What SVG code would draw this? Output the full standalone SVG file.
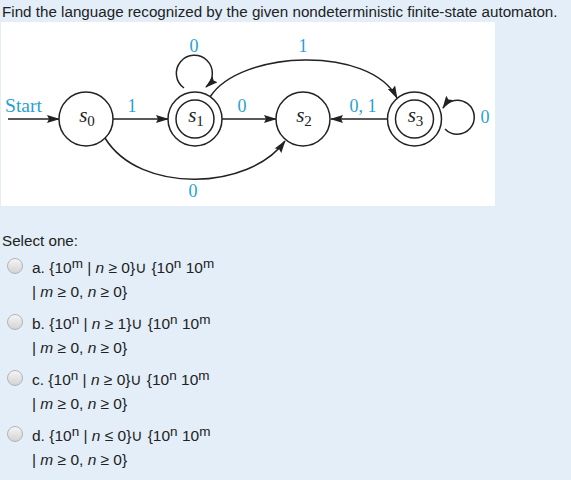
<svg xmlns="http://www.w3.org/2000/svg" width="571" height="480" viewBox="0 0 571 480">
<style>
.lbl{font-family:"Liberation Serif","Times New Roman",serif;font-size:18px;fill:#2a9fd6}
.st{font-family:"Liberation Serif","Times New Roman",serif;font-size:21px;font-style:italic;fill:#222}
.sub{font-size:15px;font-style:normal}
.node{fill:#fff;stroke:#222;stroke-width:1.5}
.edge{fill:none;stroke:#222;stroke-width:1.5}
.txt{font-family:"Liberation Sans",Arial,sans-serif;font-size:15.2px;fill:#222}
.opt{font-size:15.5px}
.it{font-style:italic}
.sup{font-size:13.5px}
.radio{fill:url(#rg);stroke:#b4b4b4;stroke-width:1}
</style>
<defs>
<marker id="ah" markerWidth="13" markerHeight="8" refX="12" refY="4" orient="auto" markerUnits="userSpaceOnUse">
<path d="M0,0 L13,4 L0,8 L2,4 Z" fill="#222"/>
</marker>
<linearGradient id="rg" x1="0" y1="0" x2="0" y2="1">
<stop offset="0" stop-color="#f6f6f6"/>
<stop offset="1" stop-color="#d2d2d2"/>
</linearGradient>
</defs>
<rect x="0" y="0" width="571" height="480" fill="#e3eef9"/>
<rect x="1" y="22" width="494" height="184" fill="#fff"/>
<text class="txt" x="2" y="17">Find the language recognized by the given nondeterministic finite-state automaton.</text>

<g id="connectors">
<path class="edge" d="M8,119 L59,119" marker-end="url(#ah)"/>
<path class="edge" d="M113,119 L168,119" marker-end="url(#ah)"/>
<path class="edge" d="M222,119 L276,119" marker-end="url(#ah)"/>
<path class="edge" d="M387,119 L331,119" marker-end="url(#ah)"/>
<path class="edge" d="M105,138 C140,195 250,190 285,141" marker-end="url(#ah)"/>
<path class="edge" d="M210,97 C240,50 370,45 397,98" marker-end="url(#ah)"/>
<path class="edge" d="M184,88 A18,18 0 1 1 206,87" marker-end="url(#ah)"/>
<path class="edge" d="M445,129 A17,17 0 1 0 443,108" marker-end="url(#ah)"/>
<text class="lbl" x="5" y="112" textLength="37" lengthAdjust="spacingAndGlyphs">Start</text>
<text class="lbl" x="132" y="112" text-anchor="middle">1</text>
<text class="lbl" x="194" y="52" text-anchor="middle">0</text>
<text class="lbl" x="242" y="112" text-anchor="middle">0</text>
<text class="lbl" x="303" y="52" text-anchor="middle">1</text>
<text class="lbl" x="363" y="112" text-anchor="middle">0, 1</text>
<text class="lbl" x="485" y="123" text-anchor="middle">0</text>
<text class="lbl" x="193" y="197" text-anchor="middle">0</text>
</g>

<g id="s0">
<circle class="node" cx="86" cy="119" r="27"/>
<text class="st" x="87" y="122" text-anchor="middle">s<tspan class="sub" dy="4">0</tspan></text>
</g>
<g id="s1">
<circle class="node" cx="195" cy="119" r="27"/>
<circle class="node" cx="195" cy="119" r="19"/>
<text class="st" x="196" y="122" text-anchor="middle">s<tspan class="sub" dy="4">1</tspan></text>
</g>
<g id="s2">
<circle class="node" cx="303" cy="119" r="27"/>
<text class="st" x="304" y="122" text-anchor="middle">s<tspan class="sub" dy="4">2</tspan></text>
</g>
<g id="s3">
<circle class="node" cx="414.5" cy="119" r="27"/>
<circle class="node" cx="414.5" cy="119" r="19"/>
<text class="st" x="415.5" y="122" text-anchor="middle">s<tspan class="sub" dy="4">3</tspan></text>
</g>

<text class="txt" x="2" y="246">Select one:</text>

<g id="optA">
<circle class="radio" cx="15" cy="266" r="7.5"/>
<text class="txt opt" x="32" y="273">a. {10<tspan class="sup" dy="-5">m</tspan><tspan dy="5"> | </tspan><tspan class="it">n</tspan> ≥ 0}∪ {10<tspan class="sup" dy="-5">n</tspan><tspan dy="5"> 10</tspan><tspan class="sup" dy="-5">m</tspan></text>
<text class="txt opt" x="32" y="297">| <tspan class="it">m</tspan> ≥ 0, <tspan class="it">n</tspan> ≥ 0}</text>
</g>
<g id="optB">
<circle class="radio" cx="15" cy="322" r="7.5"/>
<text class="txt opt" x="32" y="329">b. {10<tspan class="sup" dy="-5">n</tspan><tspan dy="5"> | </tspan><tspan class="it">n</tspan> ≥ 1}∪ {10<tspan class="sup" dy="-5">n</tspan><tspan dy="5"> 10</tspan><tspan class="sup" dy="-5">m</tspan></text>
<text class="txt opt" x="32" y="353">| <tspan class="it">m</tspan> ≥ 0, <tspan class="it">n</tspan> ≥ 0}</text>
</g>
<g id="optC">
<circle class="radio" cx="15" cy="378" r="7.5"/>
<text class="txt opt" x="32" y="385">c. {10<tspan class="sup" dy="-5">n</tspan><tspan dy="5"> | </tspan><tspan class="it">n</tspan> ≥ 0}∪ {10<tspan class="sup" dy="-5">n</tspan><tspan dy="5"> 10</tspan><tspan class="sup" dy="-5">m</tspan></text>
<text class="txt opt" x="32" y="409">| <tspan class="it">m</tspan> ≥ 0, <tspan class="it">n</tspan> ≥ 0}</text>
</g>
<g id="optD">
<circle class="radio" cx="15" cy="434" r="7.5"/>
<text class="txt opt" x="32" y="441">d. {10<tspan class="sup" dy="-5">n</tspan><tspan dy="5"> | </tspan><tspan class="it">n</tspan> ≤ 0}∪ {10<tspan class="sup" dy="-5">n</tspan><tspan dy="5"> 10</tspan><tspan class="sup" dy="-5">m</tspan></text>
<text class="txt opt" x="32" y="465">| <tspan class="it">m</tspan> ≥ 0, <tspan class="it">n</tspan> ≥ 0}</text>
</g>
</svg>
